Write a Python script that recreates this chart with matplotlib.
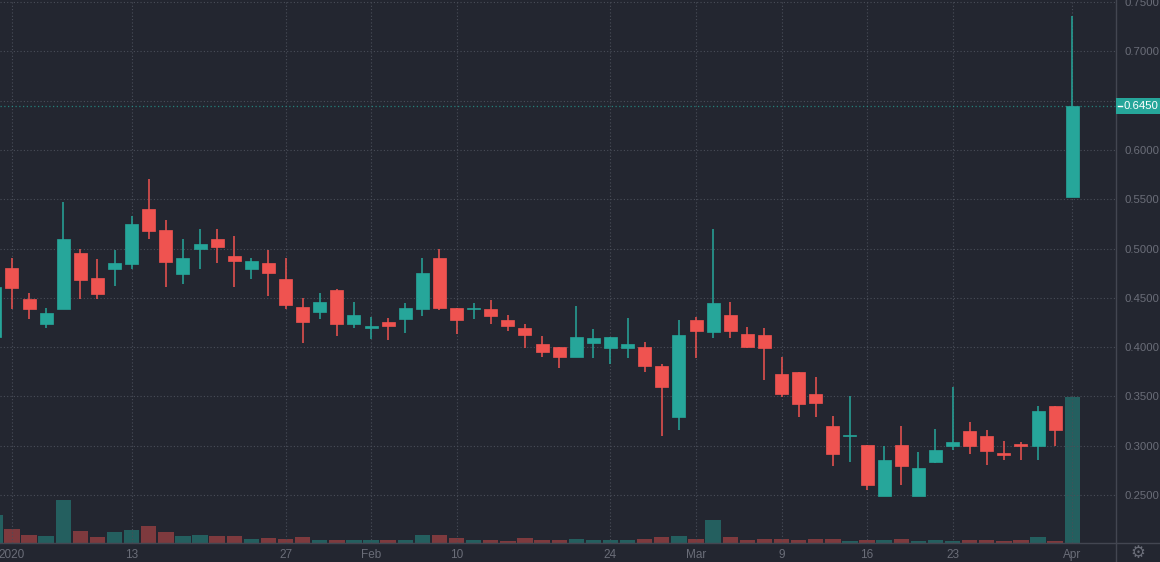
import matplotlib
matplotlib.use("Agg")
import matplotlib.pyplot as plt
from matplotlib.lines import Line2D
from matplotlib.patches import Rectangle
import numpy as np

# trading days shown (Dec 31 2019 .. Apr 1 2020)
dates = (["2019-12-31"]
         + ["2020-01-%02d" % d for d in [2, 3, 6, 7, 8, 9, 10, 13, 14, 15, 16, 17, 21, 22, 23, 24, 27, 28, 29, 30, 31]]
         + ["2020-02-%02d" % d for d in [3, 4, 5, 6, 7, 10, 11, 12, 13, 14, 18, 19, 20, 21, 24, 25, 26, 27, 28]]
         + ["2020-03-%02d" % d for d in [2, 3, 4, 5, 6, 9, 10, 11, 12, 13, 16, 17, 18, 19, 20, 23, 24, 25, 26, 27, 30, 31]]
         + ["2020-04-01"])

opens = [0.410,
         0.480, 0.449, 0.4235, 0.439, 0.496, 0.470, 0.479, 0.484, 0.5405, 0.519, 0.4745, 0.500, 0.510, 0.492,
         0.479, 0.485, 0.4695, 0.441, 0.436, 0.458, 0.4235,
         0.419, 0.426, 0.4285, 0.439, 0.4905, 0.440, 0.4385, 0.439, 0.4275, 0.4195, 0.403, 0.400, 0.390,
         0.4045, 0.3995, 0.3995, 0.400, 0.3805, 0.329,
         0.428, 0.415, 0.4325, 0.413, 0.412, 0.3725, 0.3745, 0.353, 0.320, 0.3095, 0.3005, 0.2495, 0.3005,
         0.2495, 0.2835, 0.300, 0.315, 0.310, 0.293, 0.302, 0.2995, 0.3405,
         0.5525]
highs = [0.465,
         0.490, 0.455, 0.4395, 0.5475, 0.500, 0.489, 0.499, 0.533, 0.571, 0.529, 0.510, 0.520, 0.520, 0.5125,
         0.4905, 0.499, 0.4905, 0.450, 0.455, 0.4585, 0.446,
         0.431, 0.4295, 0.445, 0.4905, 0.500, 0.440, 0.445, 0.4475, 0.433, 0.424, 0.4115, 0.400, 0.442,
         0.418, 0.410, 0.430, 0.4055, 0.383, 0.4275,
         0.431, 0.5195, 0.446, 0.420, 0.419, 0.3905, 0.3745, 0.370, 0.3305, 0.350, 0.3005, 0.300, 0.3205,
         0.294, 0.3175, 0.360, 0.324, 0.3165, 0.305, 0.3035, 0.3405, 0.3405,
         0.736]
lows = [0.405,
        0.439, 0.429, 0.419, 0.4385, 0.449, 0.449, 0.4625, 0.479, 0.5095, 0.461, 0.464, 0.479, 0.4855, 0.461,
        0.469, 0.452, 0.4385, 0.404, 0.4285, 0.4115, 0.419,
        0.408, 0.4075, 0.414, 0.4315, 0.438, 0.4135, 0.4285, 0.4235, 0.416, 0.399, 0.3905, 0.379, 0.390,
        0.3895, 0.383, 0.3895, 0.3745, 0.310, 0.3155,
        0.389, 0.409, 0.409, 0.3995, 0.3665, 0.3495, 0.329, 0.329, 0.279, 0.2835, 0.2555, 0.2495, 0.260,
        0.2495, 0.2825, 0.296, 0.292, 0.280, 0.2855, 0.2855, 0.2855, 0.300,
        0.5525]
closes = [0.461,
          0.460, 0.439, 0.435, 0.510, 0.468, 0.454, 0.485, 0.5245, 0.518, 0.486, 0.490, 0.505, 0.502, 0.487,
          0.487, 0.4755, 0.443, 0.426, 0.4455, 0.4235, 0.433,
          0.4215, 0.421, 0.4395, 0.475, 0.4395, 0.428, 0.4395, 0.432, 0.421, 0.412, 0.395, 0.3905, 0.410,
          0.409, 0.410, 0.4035, 0.381, 0.3595, 0.4125,
          0.4165, 0.4445, 0.4165, 0.4005, 0.3995, 0.3525, 0.3425, 0.3435, 0.292, 0.310, 0.260, 0.286, 0.279,
          0.277, 0.2955, 0.304, 0.300, 0.295, 0.2905, 0.2995, 0.3355, 0.3165,
          0.645]
volumes = [28,
           14, 7.6, 7.3, 43, 12, 6, 11, 13, 17.5, 11, 6.6, 8.3, 7, 7, 4, 5, 4, 6, 3.3, 3, 2.6,
           3.3, 3, 2.6, 7.6, 7.6, 5, 3.3, 2.6, 2.3, 5, 3.3, 3.3, 4, 2.7, 3.4, 3.4, 4.4, 5.8, 7,
           4.4, 23, 6, 2.7, 3.7, 4, 2.7, 3.7, 4, 2.4, 3.4, 3, 3.7, 1.7, 3, 2.4, 3.4, 3.4, 2.4, 3, 6.5, 2.4,
           146]

tick_dates = ["2020-01-02", "2020-01-13", "2020-01-27", "2020-02-03", "2020-02-10", "2020-02-24",
              "2020-03-02", "2020-03-09", "2020-03-16", "2020-03-23", "2020-04-01"]
tick_labels = ["2020", "13", "27", "Feb", "10", "24", "Mar", "9", "16", "23", "Apr"]
price_ticks = [0.25, 0.30, 0.35, 0.40, 0.45, 0.50, 0.55, 0.60, 0.65, 0.70, 0.75]
last_price = closes[-1]

BG = "#232630"
UP = "#26a69a"
DOWN = "#ef5350"
GRID = "#4a4e59"
TXT = "#6a6d78"
LINE = "#434651"

plt.rcParams["font.family"] = ["Liberation Sans", "DejaVu Sans"]

o = np.array(opens); h = np.array(highs); l = np.array(lows); c = np.array(closes)
x = np.arange(len(dates))
colors = np.where(c >= o, UP, DOWN)

fig = plt.figure(figsize=(11.6, 5.62), dpi=100, facecolor=BG)
ax = fig.add_axes([0, 19 / 562, 1116 / 1160, 543 / 562])

# volume underneath, own scale
axv = ax.twinx()
axv.set_facecolor(BG)
axv.bar(x, volumes, width=0.9, color=colors, alpha=0.45, linewidth=0)
axv.set_ylim(0, max(volumes) * 543 / 146)
axv.set_yticks([])
for s in axv.spines.values():
    s.set_visible(False)
ax.set_zorder(axv.get_zorder() + 1)
ax.patch.set_visible(False)

# candles
ax.vlines(x, l, h, colors=colors, linewidth=1.1, zorder=3)
body_lo = np.minimum(o, c)
body_h = np.maximum(np.abs(c - o), 0.0012)
ax.bar(x, body_h, bottom=body_lo, width=0.76, color=colors, edgecolor=colors, linewidth=0.5, zorder=4)

# last price line
ax.axhline(last_price, color=UP, linewidth=0.9, linestyle=(0, (1, 2)), alpha=0.7, zorder=2)

ax.set_xlim(0.30, 65.56)
ax.set_ylim(0.2014, 0.7521)

pos = [dates.index(d) for d in tick_dates]
ax.set_xticks(pos)
ax.set_xticklabels(tick_labels)
ax.set_yticks(price_ticks)
# the 0.6500 label sits under the last price tag, as on the scale of the original
ax.set_yticklabels(["" if abs(p - last_price) < 0.01 else "%.4f" % p for p in price_ticks])
ax.yaxis.tick_right()
ax.tick_params(axis="y", length=0, pad=6, labelsize=8.2, labelcolor=TXT)
ax.tick_params(axis="x", length=0, pad=4, labelsize=8.5, labelcolor=TXT)
ax.grid(True, color=GRID, linewidth=0.8, linestyle=(0, (1, 2)))
ax.set_axisbelow(True)
for s in ax.spines.values():
    s.set_visible(False)

# last price tag on the scale
y_last = ax.transData.transform((0, last_price))[1] / fig.bbox.height
fig.add_artist(Rectangle((1116 / 1160, y_last - 8 / 562), 44 / 1160, 16 / 562,
                         facecolor=UP, edgecolor="none", zorder=10))
fig.add_artist(Line2D([1118 / 1160, 1122 / 1160], [y_last, y_last], color="white", linewidth=1, zorder=11))
fig.text(1124 / 1160, y_last, "%.4f" % last_price, ha="left", va="center",
         fontsize=8.2, color="white", zorder=12)

# separators of price scale and time scale
fig.add_artist(Line2D([1116 / 1160, 1116 / 1160], [0, 1], color=LINE, linewidth=1))
fig.add_artist(Line2D([0, 1], [19 / 562, 19 / 562], color=LINE, linewidth=1))
fig.text(1138 / 1160, 9 / 562, "\u2699", ha="center", va="center", fontsize=12, color=TXT,
         family="DejaVu Sans")

fig.savefig("out.png", dpi=100, facecolor=BG)
